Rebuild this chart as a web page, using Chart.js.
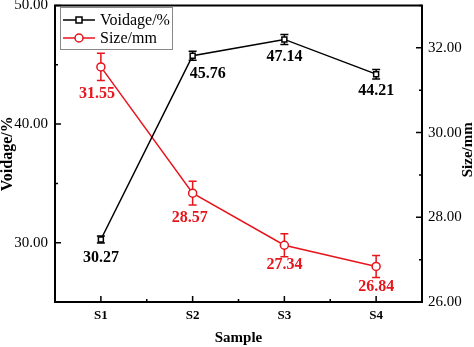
<!DOCTYPE html>
<html>
<head>
<meta charset="utf-8">
<script src="https://cdn.jsdelivr.net/npm/chart.js@4"></script>
<style>
  body { margin: 0; background: #fff; }
  #chart { display: block; }
</style>
</head>
<body>
<canvas id="chart" width="474" height="347"></canvas>
<script>
const samples = ['S1', 'S2', 'S3', 'S4'];
const voidage = [30.27, 45.76, 47.14, 44.21];
const voidageErr = [0.3, 0.38, 0.42, 0.4];
const size = [31.55, 28.57, 27.34, 26.84];
const sizeErr = [0.32, 0.28, 0.27, 0.26];
const voidageTicks = [30, 40, 50];
const voidageMinor = [35, 45];
const sizeTicks = [26, 28, 30, 32];
const sizeMinor = [27, 29, 31, 33];

const RED = '#e8141c';
const SERIF = '"Liberation Serif", "Times New Roman", serif';

// where the value labels sit relative to each point
const labelShift = {
    0: { dx: [0, 15, 0, 0], dy: [18, 18, 17, 17] },
    1: { dx: [-4, -3, 0, 0], dy: [27, 25, 20, 20] }
};
const errors = [voidageErr, sizeErr];

const decorPlugin = {
    id: 'decor',
    beforeDatasetsDraw(chart) {
        const ctx = chart.ctx;
        chart.data.datasets.forEach((ds, i) => {
            const meta = chart.getDatasetMeta(i);
            const yScale = chart.scales[ds.yAxisID];
            ctx.save();
            ctx.strokeStyle = ds.borderColor;
            ctx.lineWidth = 1.5;
            meta.data.forEach((pt, j) => {
                const v = ds.data[j];
                const e = errors[i][j];
                const top = yScale.getPixelForValue(v + e);
                const bot = yScale.getPixelForValue(v - e);
                ctx.beginPath();
                ctx.moveTo(pt.x, top); ctx.lineTo(pt.x, bot);
                ctx.moveTo(pt.x - 4, top); ctx.lineTo(pt.x + 4, top);
                ctx.moveTo(pt.x - 4, bot); ctx.lineTo(pt.x + 4, bot);
                ctx.stroke();
            });
            ctx.restore();
        });
    },
    afterDatasetsDraw(chart) {
        const ctx = chart.ctx;
        const area = chart.chartArea;
        const x = chart.scales.x, y = chart.scales.y, y1 = chart.scales.y1;

        // frame
        ctx.save();
        ctx.strokeStyle = '#000';
        ctx.lineWidth = 2;
        ctx.strokeRect(area.left, area.top, area.right - area.left, area.bottom - area.top);

        // inward ticks
        ctx.lineWidth = 1.5;
        ctx.beginPath();
        voidageTicks.forEach(v => { const p = y.getPixelForValue(v); ctx.moveTo(area.left, p); ctx.lineTo(area.left + 6, p); });
        voidageMinor.forEach(v => { const p = y.getPixelForValue(v); ctx.moveTo(area.left, p); ctx.lineTo(area.left + 3, p); });
        sizeTicks.forEach(v => { const p = y1.getPixelForValue(v); ctx.moveTo(area.right, p); ctx.lineTo(area.right - 6, p); });
        sizeMinor.forEach(v => { const p = y1.getPixelForValue(v); ctx.moveTo(area.right, p); ctx.lineTo(area.right - 3, p); });
        samples.forEach((s, j) => {
            const p = x.getPixelForTick(j);
            ctx.moveTo(p, area.bottom); ctx.lineTo(p, area.bottom - 6);
            if (j < samples.length - 1) {
                const m = (p + x.getPixelForTick(j + 1)) / 2;
                ctx.moveTo(m, area.bottom); ctx.lineTo(m, area.bottom - 3);
            }
        });
        ctx.stroke();

        // value labels
        ctx.font = 'bold 16px ' + SERIF;
        ctx.textAlign = 'center';
        ctx.textBaseline = 'middle';
        chart.data.datasets.forEach((ds, i) => {
            const meta = chart.getDatasetMeta(i);
            ctx.fillStyle = ds.borderColor;
            meta.data.forEach((pt, j) => {
                ctx.fillText(ds.data[j].toFixed(2), pt.x + labelShift[i].dx[j], pt.y + labelShift[i].dy[j]);
            });
        });

        // right axis title, reading upward
        ctx.save();
        ctx.translate(468, (area.top + area.bottom) / 2 - 4);
        ctx.rotate(-Math.PI / 2);
        ctx.font = 'bold 15px ' + SERIF;
        ctx.fillStyle = '#000';
        ctx.fillText('Size/mm', 0, 0);
        ctx.restore();

        // legend box
        ctx.fillStyle = '#fff';
        ctx.fillRect(60, 7, 112, 42);
        ctx.strokeStyle = '#888';
        ctx.lineWidth = 1;
        ctx.strokeRect(60.5, 7.5, 112, 42);
        const rows = [{ y: 20, ds: chart.data.datasets[0] }, { y: 38, ds: chart.data.datasets[1] }];
        rows.forEach(r => {
            ctx.strokeStyle = r.ds.borderColor;
            ctx.lineWidth = 1.5;
            ctx.beginPath();
            ctx.moveTo(63, r.y); ctx.lineTo(95, r.y);
            ctx.stroke();
            ctx.fillStyle = '#fff';
            ctx.beginPath();
            if (r.ds.pointStyle === 'rect') {
                ctx.rect(76, r.y - 3, 6, 6);
            } else {
                ctx.arc(79, r.y, 4, 0, Math.PI * 2);
            }
            ctx.fill();
            ctx.stroke();
            ctx.fillStyle = '#000';
            ctx.font = '16px ' + SERIF;
            ctx.textAlign = 'left';
            ctx.fillText(r.ds.label, 100, r.y + 1);
        });
        ctx.restore();
    }
};

new Chart(document.getElementById('chart'), {
    type: 'line',
    data: {
        labels: samples,
        datasets: [
            {
                label: 'Voidage/%',
                data: voidage,
                yAxisID: 'y',
                borderColor: '#000',
                backgroundColor: '#fff',
                borderWidth: 1.5,
                pointStyle: 'rect',
                pointRadius: 3.5,
                pointBorderWidth: 1.5,
                pointBackgroundColor: '#fff',
                tension: 0
            },
            {
                label: 'Size/mm',
                data: size,
                yAxisID: 'y1',
                borderColor: RED,
                backgroundColor: '#fff',
                borderWidth: 1.5,
                pointStyle: 'circle',
                pointRadius: 4,
                pointBorderWidth: 1.5,
                pointBackgroundColor: '#fff',
                tension: 0
            }
        ]
    },
    options: {
        responsive: false,
        animation: false,
        layout: { padding: { top: 4, left: 0, right: 0, bottom: 0 } },
        plugins: { legend: { display: false }, tooltip: { enabled: false } },
        scales: {
            x: {
                offset: true,
                grid: { display: false, drawTicks: false },
                border: { display: false },
                ticks: { color: '#000', padding: 6, font: { family: SERIF, size: 13, weight: 'bold' } },
                title: { display: true, text: 'Sample', color: '#000', padding: 0, font: { family: SERIF, size: 15, weight: 'bold', lineHeight: 1.2 } },
                afterFit(scale) { scale.height = 45; scale.paddingLeft = 0; scale.paddingRight = 0; }
            },
            y: {
                position: 'left',
                min: 25,
                max: 50,
                grid: { display: false, drawTicks: false },
                border: { display: false },
                afterBuildTicks(scale) { scale.ticks = voidageTicks.map(v => ({ value: v })); },
                ticks: { color: '#000', padding: 7, font: { family: SERIF, size: 15 }, callback: v => v.toFixed(2) },
                title: { display: true, text: 'Voidage/%', color: '#000', padding: 0, font: { family: SERIF, size: 16, weight: 'bold', lineHeight: 1 } },
                afterFit(scale) { scale.width = 55; scale.paddingTop = 0; scale.paddingBottom = 0; }
            },
            y1: {
                position: 'right',
                min: 26,
                max: 33,
                grid: { display: false, drawTicks: false },
                border: { display: false },
                afterBuildTicks(scale) { scale.ticks = sizeTicks.map(v => ({ value: v })); },
                ticks: { color: '#000', padding: 6, font: { family: SERIF, size: 15 }, callback: v => v.toFixed(2) },
                afterFit(scale) { scale.width = 52; scale.paddingTop = 0; scale.paddingBottom = 0; }
            }
        }
    },
    plugins: [decorPlugin]
});
</script>
</body>
</html>
